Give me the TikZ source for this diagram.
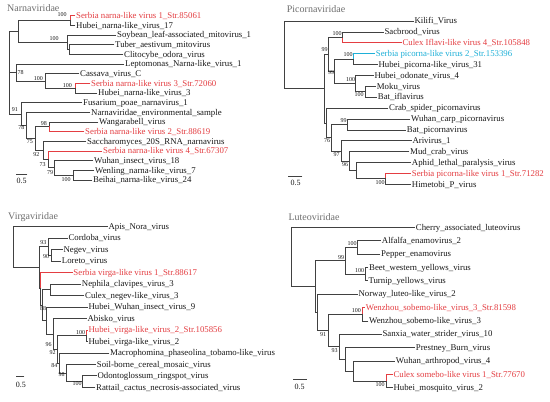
\documentclass[tikz,border=0pt]{standalone}
\usepackage{fontspec}
\setmainfont{Liberation Serif}
\definecolor{brc}{RGB}{65,65,65}
\definecolor{txt}{RGB}{25,25,25}
\definecolor{redc}{RGB}{228,62,66}
\definecolor{cyanc}{RGB}{30,176,216}
\definecolor{ttlc}{RGB}{110,110,110}
\newcommand\leaffont{\fontsize{8.8}{10}\selectfont}
\newcommand\bootfont{\fontsize{6}{7}\selectfont}
\newcommand\scalefont{\fontsize{8}{9}\selectfont}
\newcommand\titlefont{\fontsize{10}{12}\selectfont}
\tikzset{
  br/.style={draw=brc, line width=0.75pt, line cap=rect},
  rbr/.style={br, draw=redc},
  cbr/.style={br, draw=cyanc},
  lf/.style={anchor=west, inner xsep=1pt, inner ysep=0pt, font=\leaffont, text height=5.4pt, text depth=0pt, text=txt},
  rlf/.style={lf, text=redc},
  clf/.style={lf, text=cyanc},
  bs/.style={font=\bootfont, inner sep=0pt, text=txt},
  sbl/.style={font=\scalefont, inner sep=0pt, text=txt},
  ttl/.style={anchor=west, inner sep=0pt, font=\titlefont, text=ttlc},
}
\begin{document}
\begin{tikzpicture}[x=1pt,y=-1pt]
\useasboundingbox (0,0) rectangle (550,402);
\fill[white] (0,0) rectangle (550,402);

%================ Narnaviridae =================
\node[ttl] (T1) at (7,8.3) {Narnaviridae};
\node[rlf] (N1) at (75,15.7) {Serbia narna-like virus 1\_Str.85061};
\node[lf] (N2) at (75,25.4) {Hubei\_narna-like\_virus\_17};
\node[lf] (N3) at (116,35.0) {Soybean\_leaf-associated\_mitovirus\_1};
\node[lf] (N4) at (114,44.7) {Tuber\_aestivum\_mitovirus};
\node[lf] (N5) at (123,54.3) {Clitocybe\_odora\_virus};
\node[lf] (N6) at (124,64.0) {Leptomonas\_Narna-like\_virus\_1};
\node[lf] (N7) at (79,73.7) {Cassava\_virus\_C};
\node[rlf] (N8) at (90,83.3) {Serbia narna-like virus 3\_Str.72060};
\node[lf] (N9) at (97,93.0) {Hubei\_narna-like\_virus\_3};
\node[lf] (N10) at (82,102.6) {Fusarium\_poae\_narnavirus\_1};
\node[lf] (N11) at (90,112.3) {Narnaviridae\_environmental\_sample};
\node[lf] (N12) at (98,122.0) {Wangarabell\_virus};
\node[rlf] (N13) at (84,131.6) {Serbia narna-like virus 2\_Str.88619};
\node[lf] (N14) at (86,141.3) {Saccharomyces\_20S\_RNA\_narnavirus};
\node[rlf] (N15) at (102,150.9) {Serbia narna-like virus 4\_Str.67307};
\node[lf] (N16) at (93,160.6) {Wuhan\_insect\_virus\_18};
\node[lf] (N17) at (94,170.3) {Wenling\_narna-like\_virus\_7};
\node[lf] (N18) at (92,179.9) {Beihai\_narna-like\_virus\_24};

\coordinate (a12) at (70,20.55);
\coordinate (a45) at (69,49.5);
\coordinate (a345) at (67,42.25);
\coordinate (atop) at (18,31.4);
\coordinate (a89) at (75,88.15);
\coordinate (a789) at (45,80.9);
\coordinate (a6789) at (16,72.45);
\coordinate (b1718) at (73,175.1);
\coordinate (b79) at (54,167.85);
\coordinate (b73) at (48,159.4);
\coordinate (b92) at (43,150.35);
\coordinate (b98) at (49,126.8);
\coordinate (b75) at (35,138.6);
\coordinate (b78) at (26,125.45);
\coordinate (b91) at (21,114.0);
\coordinate (r1) at (9,72.45);

\draw[rbr] (a12) |- (N1.west);
\draw[br] (a12) |- (N2.west);
\draw[br] (a345) |- (N3.west);
\draw[br] (a345) |- (a45);
\draw[br] (a45) |- (N4.west);
\draw[br] (a45) |- (N5.west);
\draw[br] (atop) |- (a12);
\draw[br] (atop) |- (a345);
\draw[br] (a6789) |- (N6.west);
\draw[br] (a6789) |- (a789);
\draw[br] (a789) |- (N7.west);
\draw[br] (a789) |- (a89);
\draw[rbr] (a89) |- (N8.west);
\draw[br] (a89) |- (N9.west);
\draw[br] (b91) |- (N10.west);
\draw[br] (b91) |- (b78);
\draw[br] (b78) |- (N11.west);
\draw[br] (b78) |- (b75);
\draw[br] (b75) |- (b98);
\draw[br] (b75) |- (b92);
\draw[br] (b98) |- (N12.west);
\draw[rbr] (b98) |- (N13.west);
\draw[br] (b92) |- (N14.west);
\draw[br] (b92) |- (b73);
\draw[rbr] (b73) |- (N15.west);
\draw[br] (b73) |- (b79);
\draw[br] (b79) |- (N16.west);
\draw[br] (b79) |- (b1718);
\draw[br] (b1718) |- (N17.west);
\draw[br] (b1718) |- (N18.west);
\draw[br] (r1) |- (atop);
\draw[br] (r1) |- (a6789);
\draw[br] (r1) |- (b91);

\node[bs] (bn1) at (62,15) {100};
\node[bs] (bn2) at (54,39) {100};
\node[bs] (bn3) at (20.5,73) {78};
\node[bs] (bn4) at (38.5,79) {100};
\node[bs] (bn5) at (67.5,86) {100};
\node[bs] (bn6) at (15,110) {91};
\node[bs] (bn7) at (44,124) {98};
\node[bs] (bn8) at (21.5,128) {78};
\node[bs] (bn9) at (30,142) {75};
\node[bs] (bn10) at (36.5,155) {92};
\node[bs] (bn11) at (42.5,165) {73};
\node[bs] (bn12) at (50,173) {79};
\node[bs] (bn13) at (66,180) {100};

\coordinate (s1a) at (16,174.3);
\coordinate (s1b) at (27,174.3);
\draw[br] (s1a) -- (s1b);
\node[sbl] (S1) at (21.5,181) {0.5};

%================ Picornaviridae =================
\node[ttl] (T2) at (286.7,9.3) {Picornaviridae};
\node[lf] (P1) at (413.3,21.0) {Kilifi\_Virus};
\node[lf] (P2) at (383.3,31.9) {Sacbrood\_virus};
\node[rlf] (P3) at (401.3,42.8) {Culex Iflavi-like virus 4\_Str.105848};
\node[clf] (P4) at (374.7,53.7) {Serbia picorna-like virus 2\_Str.153396};
\node[lf] (P5) at (377.3,64.5) {Hubei\_picorna-like\_virus\_31};
\node[lf] (P6) at (373.3,75.4) {Hubei\_odonate\_virus\_4};
\node[lf] (P7) at (375.7,86.3) {Moku\_virus};
\node[lf] (P8) at (376.7,97.2) {Bat\_iflavirus};
\node[lf] (P9) at (388,108.1) {Crab\_spider\_picornavirus};
\node[lf] (P10) at (410,119.0) {Wuhan\_carp\_picornavirus};
\node[lf] (P11) at (405.7,129.9) {Bat\_picornavirus};
\node[lf] (P12) at (411.3,140.8) {Arivirus\_1};
\node[lf] (P13) at (409,151.6) {Mud\_crab\_virus};
\node[lf] (P14) at (410.7,162.5) {Aphid\_lethal\_paralysis\_virus};
\node[rlf] (P15) at (410.7,173.4) {Serbia picorna-like virus 1\_Str.71282};
\node[lf] (P16) at (410.7,184.3) {Himetobi\_P\_virus};

\coordinate (p23) at (342.7,37.35);
\coordinate (p45) at (353.3,59.1);
\coordinate (p78) at (365,91.75);
\coordinate (p678) at (355,83.6);
\coordinate (p4to8) at (334.3,71.35);
\coordinate (p2to8) at (328.3,54.35);
\coordinate (p1011) at (347.7,124.45);
\coordinate (p1516) at (385.7,178.85);
\coordinate (p14) at (356.7,170.7);
\coordinate (p13) at (349,161.15);
\coordinate (p12) at (341,150.98);
\coordinate (p76) at (331,137.7);
\coordinate (pcrab) at (326.5,122.9);
\coordinate (pX) at (324,88.6);
\coordinate (r2) at (284.3,54.8);

\draw[br] (p23) |- (P2.west);
\draw[rbr] (p23) |- (P3.west);
\draw[cbr] (p45) |- (P4.west);
\draw[br] (p45) |- (P5.west);
\draw[br] (p78) |- (P7.west);
\draw[br] (p78) |- (P8.west);
\draw[br] (p678) |- (P6.west);
\draw[br] (p678) |- (p78);
\draw[br] (p4to8) |- (p45);
\draw[br] (p4to8) |- (p678);
\draw[br] (p2to8) |- (p23);
\draw[br] (p2to8) |- (p4to8);
\draw[rbr] (p1516) |- (P15.west);
\draw[br] (p1516) |- (P16.west);
\draw[br] (p14) |- (P14.west);
\draw[br] (p14) |- (p1516);
\draw[br] (p13) |- (P13.west);
\draw[br] (p13) |- (p14);
\draw[br] (p12) |- (P12.west);
\draw[br] (p12) |- (p13);
\draw[br] (p1011) |- (P10.west);
\draw[br] (p1011) |- (P11.west);
\draw[br] (p76) |- (p1011);
\draw[br] (p76) |- (p12);
\draw[br] (pcrab) |- (P9.west);
\draw[br] (pcrab) |- (p76);
\draw[br] (pX) |- (p2to8);
\draw[br] (pX) |- (pcrab);
\draw[br] (r2) |- (P1.west);
\draw[br] (r2) |- (pX);

\node[bs] (bp1) at (337,34) {100};
\node[bs] (bp2) at (324.5,50) {99};
\node[bs] (bp3) at (348,55) {100};
\node[bs] (bp4) at (331,73) {99};
\node[bs] (bp5) at (350.5,80) {100};
\node[bs] (bp6) at (359,95) {100};
\node[bs] (bp7) at (343.5,121) {99};
\node[bs] (bp8) at (327,141) {76};
\node[bs] (bp9) at (336.5,155) {97};
\node[bs] (bp10) at (345,165) {96};
\node[bs] (bp11) at (380,183) {100};

\coordinate (s2a) at (288,176);
\coordinate (s2b) at (302,176);
\draw[br] (s2a) -- (s2b);
\node[sbl] (S2) at (295.5,183) {0.5};

%================ Virgaviridae =================
\node[ttl] (T3) at (8,217.3) {Virgaviridae};
\node[lf] (V1) at (107.3,226.7) {Apis\_Nora\_virus};
\node[lf] (V2) at (67.3,238.2) {Cordoba\_virus};
\node[lf] (V3) at (62.3,249.6) {Negev\_virus};
\node[lf] (V4) at (60.7,261.1) {Loreto\_virus};
\node[rlf] (V5) at (72.3,272.6) {Serbia virga-like virus 1\_Str.88617};
\node[lf] (V6) at (80.7,284.1) {Nephila\_clavipes\_virus\_3};
\node[lf] (V7) at (84,295.5) {Culex\_negev-like\_virus\_3};
\node[lf] (V8) at (87.3,307.0) {Hubei\_Wuhan\_insect\_virus\_9};
\node[lf] (V9) at (86.3,318.5) {Abisko\_virus};
\node[rlf] (V10) at (87.3,329.9) {Hubei\_virga-like\_virus\_2\_Str.105856};
\node[lf] (V11) at (87.3,341.4) {Hubei\_virga-like\_virus\_2};
\node[lf] (V12) at (109,352.9) {Macrophomina\_phaseolina\_tobamo-like\_virus};
\node[lf] (V13) at (95.7,364.3) {Soil-borne\_cereal\_mosaic\_virus};
\node[lf] (V14) at (96.3,375.8) {Odontoglossum\_ringspot\_virus};
\node[lf] (V15) at (95,387.3) {Rattail\_cactus\_necrosis-associated\_virus};

\coordinate (v34) at (51.5,255.35);
\coordinate (v234) at (48.3,246.8);
\coordinate (v67) at (50,289.8);
\coordinate (v1011) at (86.2,335.65);
\coordinate (v1415) at (82.7,381.55);
\coordinate (v13) at (66,372.9);
\coordinate (v12) at (59.3,362.9);
\coordinate (v10) at (57.3,349.3);
\coordinate (v9) at (53.3,333.9);
\coordinate (v8) at (46,320.45);
\coordinate (v6) at (42.7,305.1);
\coordinate (v5) at (40.5,288.85);
\coordinate (v2) at (39.5,267.8);
\coordinate (r3) at (13.3,247.25);

\draw[br] (v34) |- (V3.west);
\draw[br] (v34) |- (V4.west);
\draw[br] (v234) |- (V2.west);
\draw[br] (v234) |- (v34);
\draw[br] (v67) |- (V6.west);
\draw[br] (v67) |- (V7.west);
\draw[rbr] (v1011) |- (V10.west);
\draw[br] (v1011) |- (V11.west);
\draw[br] (v1415) |- (V14.west);
\draw[br] (v1415) |- (V15.west);
\draw[br] (v13) |- (V13.west);
\draw[br] (v13) |- (v1415);
\draw[br] (v12) |- (V12.west);
\draw[br] (v12) |- (v13);
\draw[br] (v10) |- (v1011);
\draw[br] (v10) |- (v12);
\draw[br] (v9) |- (V9.west);
\draw[br] (v9) |- (v10);
\draw[br] (v8) |- (V8.west);
\draw[br] (v8) |- (v9);
\draw[br] (v6) |- (v67);
\draw[br] (v6) |- (v8);
\draw[rbr] (v5) |- (V5.west);
\draw[br] (v5) |- (v6);
\draw[br] (v2) |- (v234);
\draw[br] (v2) |- (v5);
\draw[br] (r3) |- (V1.west);
\draw[br] (r3) |- (v2);

\node[bs] (bv1) at (43.5,243) {93};
\node[bs] (bv2) at (46,257) {90};
\node[bs] (bv3) at (43,308.3) {88};
\node[bs] (bv4) at (80.5,332.7) {100};
\node[bs] (bv5) at (48.5,345) {96};
\node[bs] (bv6) at (52.5,352.3) {92};
\node[bs] (bv7) at (54.5,365.7) {84};
\node[bs] (bv8) at (61.5,375) {98};
\node[bs] (bv9) at (77,384) {100};

\coordinate (s3a) at (16,376.7);
\coordinate (s3b) at (24,376.7);
\draw[br] (s3a) -- (s3b);
\node[sbl] (S3) at (21,385) {0.5};

%================ Luteoviridae =================
\node[ttl] (T4) at (288.3,217.3) {Luteoviridae};
\node[lf] (L1) at (414.7,227.3) {Cherry\_associated\_luteovirus};
\node[lf] (L2) at (380.7,240.7) {Alfalfa\_enamovirus\_2};
\node[lf] (L3) at (380,254.0) {Pepper\_enamovirus};
\node[lf] (L4) at (368,267.4) {Beet\_western\_yellows\_virus};
\node[lf] (L5) at (367.3,280.8) {Turnip\_yellows\_virus};
\node[lf] (L6) at (357.3,294.1) {Norway\_luteo-like\_virus\_2};
\node[rlf] (L7) at (364.7,307.5) {Wenzhou\_sobemo-like\_virus\_3\_Str.81598};
\node[lf] (L8) at (368,320.9) {Wenzhou\_sobemo-like\_virus\_3};
\node[lf] (L9) at (381.3,334.2) {Sanxia\_water\_strider\_virus\_10};
\node[lf] (L10) at (414.7,347.6) {Prestney\_Burn\_virus};
\node[lf] (L11) at (394.7,361.0) {Wuhan\_arthropod\_virus\_4};
\node[rlf] (L12) at (392.3,374.3) {Culex somebo-like virus 1\_Str.77670};
\node[lf] (L13) at (392.3,387.7) {Hubei\_mosquito\_virus\_2};

\coordinate (l23) at (357.7,247.35);
\coordinate (l45) at (365.7,274.1);
\coordinate (l2345) at (345,260.7);
\coordinate (l78) at (362.3,314.2);
\coordinate (l1213) at (386.7,381);
\coordinate (l11) at (353.3,371);
\coordinate (l10) at (345.7,359.3);
\coordinate (l9) at (339,346.75);
\coordinate (l7) at (328.3,330.5);
\coordinate (l6) at (317.7,312.3);
\coordinate (l2) at (315,286.5);
\coordinate (r4) at (291.7,256.9);

\draw[br] (l23) |- (L2.west);
\draw[br] (l23) |- (L3.west);
\draw[br] (l45) |- (L4.west);
\draw[br] (l45) |- (L5.west);
\draw[br] (l2345) |- (l23);
\draw[br] (l2345) |- (l45);
\draw[rbr] (l78) |- (L7.west);
\draw[br] (l78) |- (L8.west);
\draw[rbr] (l1213) |- (L12.west);
\draw[br] (l1213) |- (L13.west);
\draw[br] (l11) |- (L11.west);
\draw[br] (l11) |- (l1213);
\draw[br] (l10) |- (L10.west);
\draw[br] (l10) |- (l11);
\draw[br] (l9) |- (L9.west);
\draw[br] (l9) |- (l10);
\draw[br] (l7) |- (l78);
\draw[br] (l7) |- (l9);
\draw[br] (l6) |- (L6.west);
\draw[br] (l6) |- (l7);
\draw[br] (l2) |- (l2345);
\draw[br] (l2) |- (l6);
\draw[br] (r4) |- (L1.west);
\draw[br] (r4) |- (l2);

\node[bs] (bl1) at (352,244) {100};
\node[bs] (bl2) at (341,257.3) {99};
\node[bs] (bl3) at (359.5,270.7) {100};
\node[bs] (bl4) at (356.3,311) {100};
\node[bs] (bl5) at (323,334.3) {91};
\node[bs] (bl6) at (334.7,351) {93};
\node[bs] (bl7) at (380,385) {100};

\coordinate (s4a) at (293.3,379);
\coordinate (s4b) at (306.7,379);
\draw[br] (s4a) -- (s4b);
\node[sbl] (S4) at (299.5,386.7) {0.5};
\end{tikzpicture}
\end{document}
